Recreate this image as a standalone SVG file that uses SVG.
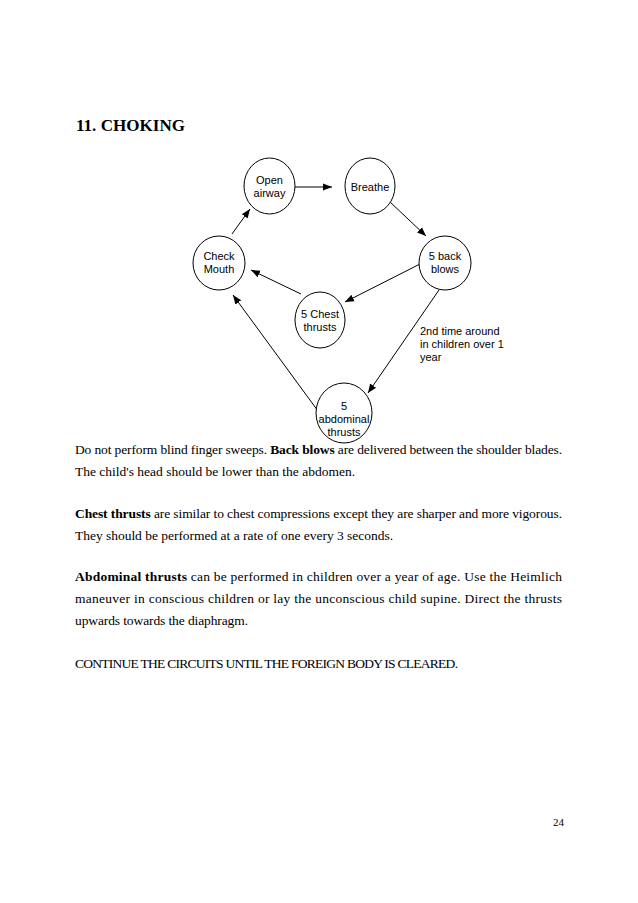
<svg xmlns="http://www.w3.org/2000/svg" width="638" height="903" viewBox="0 0 638 903">
<style>
.node ellipse{fill:#fff;stroke:#000;stroke-width:1}
.node text,.lbl{font-family:"Liberation Sans",Arial,sans-serif;font-size:11px;fill:#000}
.node text{text-anchor:middle}
.con line{stroke:#000;stroke-width:1;marker-end:url(#ah)}
.body{font-family:"Liberation Serif","Times New Roman",serif;font-size:13.5px;fill:#000}
.b{font-weight:bold}
</style>
<defs>
<marker id="ah" viewBox="0 0 10 10" refX="10" refY="5" markerWidth="9" markerHeight="9" markerUnits="userSpaceOnUse" orient="auto">
<path d="M0,1 L10,5 L0,9 z" fill="#000"/>
</marker>
</defs>
<rect width="638" height="903" fill="#fff"/>
<text x="76" y="131" class="body b" style="font-size:17px" fill="#333" textLength="109" lengthAdjust="spacingAndGlyphs">11. CHOKING</text>

<g class="con">
<line x1="295" y1="187" x2="332" y2="187"/>
<line x1="232" y1="234" x2="250" y2="209"/>
<line x1="389" y1="201" x2="426" y2="236"/>
<line x1="420" y1="264" x2="345" y2="302"/>
<line x1="301" y1="294" x2="251" y2="270"/>
<line x1="439" y1="290" x2="368" y2="393"/>
<line x1="318" y1="411" x2="233" y2="295"/>
</g>

<g id="open-airway" class="node"><ellipse cx="269.5" cy="186" rx="25.5" ry="28"/><text x="269.5" y="184">Open</text><text x="269.5" y="197">airway</text></g>
<g id="breathe" class="node"><ellipse cx="370" cy="186" rx="25" ry="28"/><text x="370" y="191">Breathe</text></g>
<g id="check-mouth" class="node"><ellipse cx="219" cy="263" rx="26" ry="27"/><text x="219" y="260">Check</text><text x="219" y="273">Mouth</text></g>
<g id="back-blows" class="node"><ellipse cx="445" cy="263" rx="26" ry="27"/><text x="445" y="260">5 back</text><text x="445" y="273">blows</text></g>
<g id="chest-thrusts" class="node"><ellipse cx="320" cy="320" rx="25" ry="28"/><text x="320" y="318">5 Chest</text><text x="320" y="331">thrusts</text></g>
<g id="abdominal-thrusts" class="node"><ellipse cx="344" cy="413" rx="28" ry="30"/><text x="344" y="410">5</text><text x="344" y="423">abdominal</text><text x="344" y="436">thrusts</text></g>

<text class="lbl" x="420" y="335">2nd time around</text>
<text class="lbl" x="420" y="348">in children over 1</text>
<text class="lbl" x="420" y="361">year</text>

<text class="body" x="75" y="454" textLength="487" lengthAdjust="spacing">Do not perform blind finger sweeps. <tspan class="b">Back blows</tspan> are delivered between the shoulder blades.</text>
<text class="body" x="75" y="476" textLength="280" lengthAdjust="spacing">The child's head should be lower than the abdomen.</text>
<text class="body" x="75" y="518" textLength="487" lengthAdjust="spacing"><tspan class="b">Chest thrusts</tspan> are similar to chest compressions except they are sharper and more vigorous.</text>
<text class="body" x="75" y="540" textLength="318" lengthAdjust="spacing">They should be performed at a rate of one every 3 seconds.</text>
<text class="body" x="75" y="581" textLength="487" lengthAdjust="spacing"><tspan class="b">Abdominal thrusts</tspan> can be performed in children over a year of age. Use the Heimlich</text>
<text class="body" x="75" y="603" textLength="487" lengthAdjust="spacing">maneuver in conscious children or lay the unconscious child supine. Direct the thrusts</text>
<text class="body" x="75" y="625" textLength="173" lengthAdjust="spacing">upwards towards the diaphragm.</text>
<text class="body" x="75" y="668" textLength="383" lengthAdjust="spacing">CONTINUE THE CIRCUITS UNTIL THE FOREIGN BODY IS CLEARED.</text>
<text class="body" x="553" y="826" style="font-size:11px">24</text>
</svg>
